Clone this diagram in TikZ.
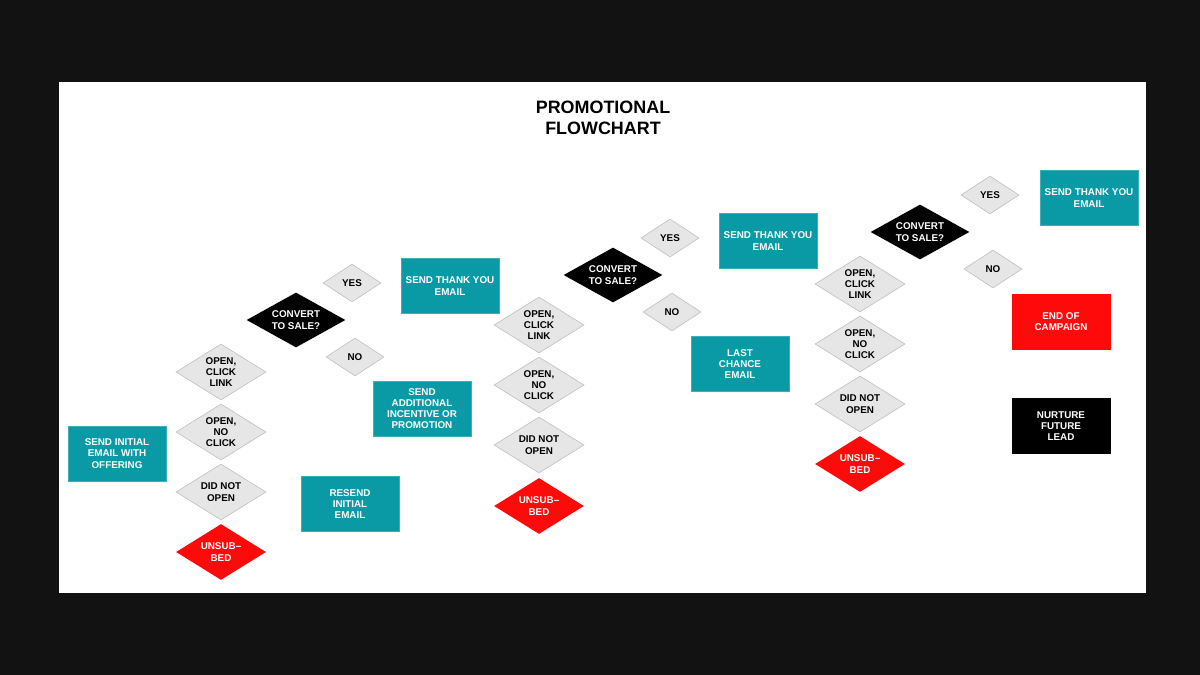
\documentclass[tikz,border=0pt]{standalone}
\usepackage{fontspec}
\setmainfont{Liberation Sans}
\usetikzlibrary{shapes.geometric,backgrounds}
\definecolor{teal1}{HTML}{0A9AA6}
\definecolor{lgray}{HTML}{E6E6E6}
\definecolor{lline}{HTML}{C4C4C4}
\definecolor{red1}{HTML}{FF0A0A}
\begin{document}
\begin{tikzpicture}[x=0.02cm,y=-0.02cm,
  every node/.style={font=\fontsize{5.6pt}{6.4pt}\selectfont\bfseries, align=center},
  box/.style={rectangle, fill=teal1, draw=teal1!80!white, text=white, minimum width=1.96cm, minimum height=1.1cm, inner sep=1pt},
  dia/.style={diamond, fill=lgray, draw=lline, text=black, minimum width=1.8cm, minimum height=1.12cm, inner sep=0pt, aspect=1.6},
  sdia/.style={diamond, fill=lgray, draw=lline, text=black, minimum width=1.16cm, minimum height=0.76cm, inner sep=0pt, aspect=1.5},
  conv/.style={diamond, fill=black, text=white, minimum width=1.98cm, minimum height=1.1cm, inner sep=0pt, aspect=1.8},
  unsub/.style={diamond, fill=red1, text=white, minimum width=1.8cm, minimum height=1.12cm, inner sep=0pt, aspect=1.6},
  ln/.style={draw=lline, line width=0.6pt}]
\fill[black!93] (0,0) rectangle (1200,675);
\fill[white] (59,82) rectangle (1146,593);
\useasboundingbox (0,0) rectangle (1200,675);
\node[font=\fontsize{10.2pt}{12pt}\selectfont\bfseries] (title) at (603,118) {PROMOTIONAL\\FLOWCHART};
% column 1
\node[box] (init) at (117,453.5) {SEND INITIAL\\EMAIL WITH\\OFFERING};
\node[dia] (ck1) at (221,372) {OPEN,\\CLICK\\LINK};
\node[dia] (nc1) at (221,432) {OPEN,\\NO\\CLICK};
\node[dia] (dn1) at (221,492) {DID NOT\\OPEN};
\node[unsub] (u1) at (221,552) {UNSUB--\\BED};
\node[conv] (cv1) at (296,320) {CONVERT\\TO SALE?};
\node[sdia] (y1) at (352,283) {YES};
\node[sdia] (n1) at (355,357) {NO};
\node[box] (t1) at (450,286) {SEND THANK YOU\\EMAIL};
\node[box] (rs) at (350,504) {RESEND\\INITIAL\\EMAIL};
\node[box] (add) at (422,408.5) {SEND\\ADDITIONAL\\INCENTIVE OR\\PROMOTION};
% column 2
\node[dia] (ck2) at (539,325) {OPEN,\\CLICK\\LINK};
\node[dia] (nc2) at (539,385) {OPEN,\\NO\\CLICK};
\node[dia] (dn2) at (539,445) {DID NOT\\OPEN};
\node[unsub] (u2) at (539,506) {UNSUB--\\BED};
\node[conv] (cv2) at (613,275) {CONVERT\\TO SALE?};
\node[sdia] (y2) at (670,238) {YES};
\node[sdia] (n2) at (672,312) {NO};
\node[box] (t2) at (768,241) {SEND THANK YOU\\EMAIL};
\node[box] (lc) at (740,364) {LAST\\CHANCE\\EMAIL};
% column 3
\node[dia] (ck3) at (860,284) {OPEN,\\CLICK\\LINK};
\node[dia] (nc3) at (860,344) {OPEN,\\NO\\CLICK};
\node[dia] (dn3) at (860,404) {DID NOT\\OPEN};
\node[unsub] (u3) at (860,464) {UNSUB--\\BED};
\node[conv] (cv3) at (920,232) {CONVERT\\TO SALE?};
\node[sdia] (y3) at (990,195) {YES};
\node[sdia] (n3) at (993,269) {NO};
\node[box] (t3) at (1089,198) {SEND THANK YOU\\EMAIL};
\node[box, fill=red1, draw=red1] (end) at (1061,321.5) {END OF\\CAMPAIGN};
\node[box, fill=black, draw=black] (nur) at (1061,426) {NURTURE\\FUTURE\\LEAD};
\begin{scope}[on background layer]
% column 1
\draw[ln] (init.north) |- (ck1);
\draw[ln] (init.east |- nc1) -- (nc1) -- (add.west |- nc1);
\draw[ln] (init.south) |- (dn1);
\draw[ln] (init.south) |- (u1);
\draw[ln] (dn1) -- (rs.west |- dn1);
\draw[ln] (ck1) -- (cv1) -- (y1) -- (t1.west |- y1);
\draw[ln] (cv1) -- (n1) -- (add.north west);
% column 2
\coordinate (a2) at ([xshift=0.24cm]add.north);
\coordinate (b2) at ([xshift=0.24cm]add.south);
\draw[ln] (a2) |- (ck2);
\draw[ln] (b2) |- (dn2);
\draw[ln] (b2) |- (u2);
\draw[ln] (nc2) -- (lc.west |- nc2);
\draw[ln] (ck2) -- (cv2) -- (y2) -- (t2.west |- y2);
\draw[ln] (cv2) -- (n2) -- ([xshift=0.3cm]lc.north west);
% column 3
\coordinate (a3) at ([xshift=0.3cm]lc.north);
\coordinate (b3) at ([xshift=0.3cm]lc.south);
\draw[ln] (a3) |- (ck3);
\draw[ln] (b3) |- (dn3);
\draw[ln] (b3) |- (u3);
\draw[ln] (lc.east |- nc3) -- (nc3) -- (end.west |- nc3);
\draw[ln] (ck3) -- (cv3) -- (y3);
\draw[ln] (cv3) -- (n3) -- ([xshift=0.5cm]end.north west);
\draw[ln] (end) -- (nur);
\end{scope}
\end{tikzpicture}
\end{document}
